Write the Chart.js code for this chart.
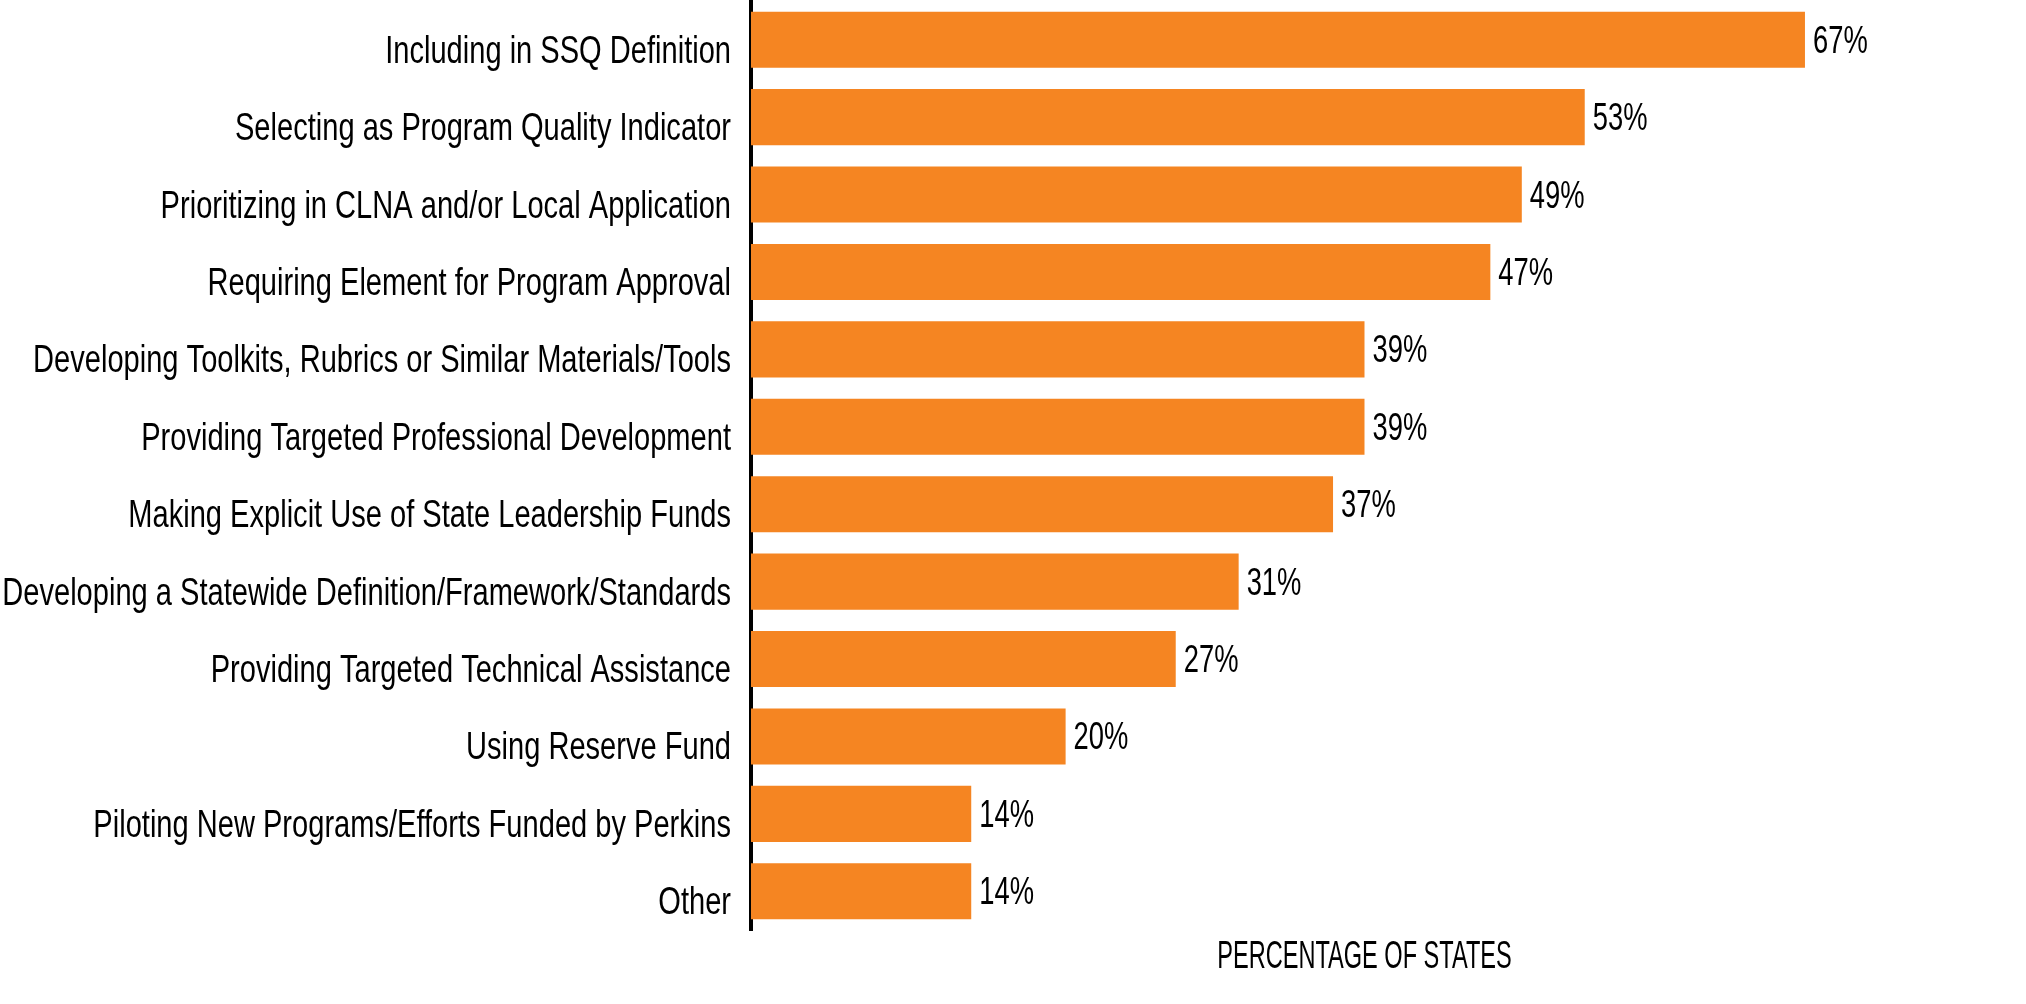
<!DOCTYPE html>
<html>
<head>
<meta charset="utf-8">
<script src="https://cdn.jsdelivr.net/npm/chart.js@4.4.1/dist/chart.umd.min.js"></script>
<style>
  html, body { margin: 0; padding: 0; background: #fff; }
  #wrap { width: 2026px; height: 1004px; }
</style>
</head>
<body>
<div id="wrap"><canvas id="strategyChart"></canvas></div>
<script>
const categories = [
  'Including in SSQ Definition',
  'Selecting as Program Quality Indicator',
  'Prioritizing in CLNA and/or Local Application',
  'Requiring Element for Program Approval',
  'Developing Toolkits, Rubrics or Similar Materials/Tools',
  'Providing Targeted Professional Development',
  'Making Explicit Use of State Leadership Funds',
  'Developing a Statewide Definition/Framework/Standards',
  'Providing Targeted Technical Assistance',
  'Using Reserve Fund',
  'Piloting New Programs/Efforts Funded by Perkins',
  'Other'
];
const percentages = [67, 53, 49, 47, 39, 39, 37, 31, 27, 20, 14, 14];
const axisTitle = 'PERCENTAGE OF STATES';

const FONT = "'Liberation Sans', Arial, sans-serif";
const FONT_SIZE = 38;

// the original uses a condensed face, so squeeze the text horizontally
function drawNarrow(ctx, text, x, y, align, squeeze) {
  ctx.save();
  ctx.translate(x, y);
  ctx.scale(squeeze, 1);
  ctx.textAlign = align;
  ctx.fillText(text, 0, 0);
  ctx.restore();
}

// category labels, value labels and the axis title
const narrowText = {
  id: 'narrowText',
  afterDraw(chart) {
    const ctx = chart.ctx;
    const yScale = chart.scales.y;
    const xScale = chart.scales.x;
    const meta = chart.getDatasetMeta(0);
    ctx.save();
    ctx.font = FONT_SIZE + 'px ' + FONT;
    ctx.fillStyle = '#000';
    ctx.textBaseline = 'alphabetic';
    categories.forEach((label, i) => {
      drawNarrow(ctx, label, yScale.right - 20, yScale.getPixelForTick(i) + 23, 'right', 0.765);
    });
    meta.data.forEach((bar, i) => {
      drawNarrow(ctx, percentages[i] + '%', bar.x + 8, bar.y + 13, 'left', 0.72);
    });
    drawNarrow(ctx, axisTitle, (xScale.left + xScale.right) / 2, xScale.top + 38, 'center', 0.62);
    ctx.restore();
  }
};

new Chart(document.getElementById('strategyChart'), {
  type: 'bar',
  data: {
    labels: categories,
    datasets: [{
      data: percentages,
      backgroundColor: '#F58522',
      borderWidth: 0,
      categoryPercentage: 1,
      barPercentage: 0.724
    }]
  },
  options: {
    indexAxis: 'y',
    responsive: true,
    maintainAspectRatio: false,
    animation: false,
    layout: {
      padding: { top: 1, right: 48, bottom: 0, left: 0 }
    },
    plugins: {
      legend: { display: false },
      tooltip: { enabled: false }
    },
    scales: {
      x: {
        min: 0,
        max: 78,
        grid: { display: false },
        border: { display: false },
        ticks: { display: false },
        afterFit: (scale) => {
          scale.height = 74;
          scale.paddingLeft = 0;
          scale.paddingRight = 0;
        }
      },
      y: {
        grid: { display: false },
        border: { display: true, color: '#000', width: 4 },
        ticks: { display: false },
        afterFit: (scale) => {
          scale.width = 751;
          scale.paddingTop = 0;
          scale.paddingBottom = 0;
        }
      }
    }
  },
  plugins: [narrowText]
});
</script>
</body>
</html>
